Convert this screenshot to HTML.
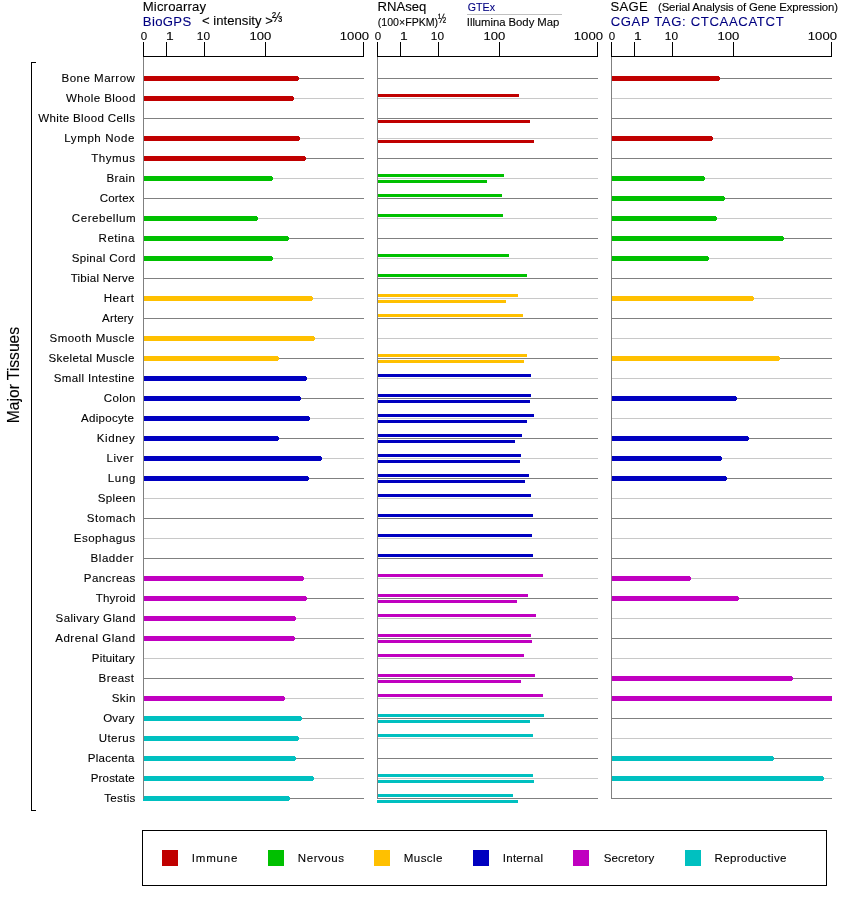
<!DOCTYPE html>
<html lang="en"><head><meta charset="utf-8"><title>Expression</title>
<style>html,body{margin:0;padding:0;background:#fff}body{width:842px;height:900px;overflow:hidden}svg{display:block}text{font-family:"Liberation Sans",Arial,Helvetica,sans-serif;stroke-width:0.1px;white-space:pre}</style></head><body>
<svg width="842" height="900" viewBox="0 0 842 900">
<rect x="0" y="0" width="842" height="900" fill="#fff"/>
<g shape-rendering="crispEdges">
<rect x="144" y="78" width="220" height="1" fill="#808080"/>
<rect x="144" y="98" width="220" height="1" fill="#c8c8c8"/>
<rect x="144" y="118" width="220" height="1" fill="#808080"/>
<rect x="144" y="138" width="220" height="1" fill="#c8c8c8"/>
<rect x="144" y="158" width="220" height="1" fill="#808080"/>
<rect x="144" y="178" width="220" height="1" fill="#c8c8c8"/>
<rect x="144" y="198" width="220" height="1" fill="#808080"/>
<rect x="144" y="218" width="220" height="1" fill="#c8c8c8"/>
<rect x="144" y="238" width="220" height="1" fill="#808080"/>
<rect x="144" y="258" width="220" height="1" fill="#c8c8c8"/>
<rect x="144" y="278" width="220" height="1" fill="#808080"/>
<rect x="144" y="298" width="220" height="1" fill="#c8c8c8"/>
<rect x="144" y="318" width="220" height="1" fill="#808080"/>
<rect x="144" y="338" width="220" height="1" fill="#c8c8c8"/>
<rect x="144" y="358" width="220" height="1" fill="#808080"/>
<rect x="144" y="378" width="220" height="1" fill="#c8c8c8"/>
<rect x="144" y="398" width="220" height="1" fill="#808080"/>
<rect x="144" y="418" width="220" height="1" fill="#c8c8c8"/>
<rect x="144" y="438" width="220" height="1" fill="#808080"/>
<rect x="144" y="458" width="220" height="1" fill="#c8c8c8"/>
<rect x="144" y="478" width="220" height="1" fill="#808080"/>
<rect x="144" y="498" width="220" height="1" fill="#c8c8c8"/>
<rect x="144" y="518" width="220" height="1" fill="#808080"/>
<rect x="144" y="538" width="220" height="1" fill="#c8c8c8"/>
<rect x="144" y="558" width="220" height="1" fill="#808080"/>
<rect x="144" y="578" width="220" height="1" fill="#c8c8c8"/>
<rect x="144" y="598" width="220" height="1" fill="#808080"/>
<rect x="144" y="618" width="220" height="1" fill="#c8c8c8"/>
<rect x="144" y="638" width="220" height="1" fill="#808080"/>
<rect x="144" y="658" width="220" height="1" fill="#c8c8c8"/>
<rect x="144" y="678" width="220" height="1" fill="#808080"/>
<rect x="144" y="698" width="220" height="1" fill="#c8c8c8"/>
<rect x="144" y="718" width="220" height="1" fill="#808080"/>
<rect x="144" y="738" width="220" height="1" fill="#c8c8c8"/>
<rect x="144" y="758" width="220" height="1" fill="#808080"/>
<rect x="144" y="778" width="220" height="1" fill="#c8c8c8"/>
<rect x="144" y="798" width="220" height="1" fill="#808080"/>
<rect x="143" y="56" width="221" height="1" fill="#000"/>
<rect x="143" y="42" width="1" height="14" fill="#000"/>
<rect x="166" y="42" width="1" height="14" fill="#000"/>
<rect x="204" y="42" width="1" height="14" fill="#000"/>
<rect x="265" y="42" width="1" height="14" fill="#000"/>
<rect x="363" y="42" width="1" height="14" fill="#000"/>
<rect x="378" y="78" width="220" height="1" fill="#808080"/>
<rect x="378" y="98" width="220" height="1" fill="#c8c8c8"/>
<rect x="378" y="118" width="220" height="1" fill="#808080"/>
<rect x="378" y="138" width="220" height="1" fill="#c8c8c8"/>
<rect x="378" y="158" width="220" height="1" fill="#808080"/>
<rect x="378" y="178" width="220" height="1" fill="#c8c8c8"/>
<rect x="378" y="198" width="220" height="1" fill="#808080"/>
<rect x="378" y="218" width="220" height="1" fill="#c8c8c8"/>
<rect x="378" y="238" width="220" height="1" fill="#808080"/>
<rect x="378" y="258" width="220" height="1" fill="#c8c8c8"/>
<rect x="378" y="278" width="220" height="1" fill="#808080"/>
<rect x="378" y="298" width="220" height="1" fill="#c8c8c8"/>
<rect x="378" y="318" width="220" height="1" fill="#808080"/>
<rect x="378" y="338" width="220" height="1" fill="#c8c8c8"/>
<rect x="378" y="358" width="220" height="1" fill="#808080"/>
<rect x="378" y="378" width="220" height="1" fill="#c8c8c8"/>
<rect x="378" y="398" width="220" height="1" fill="#808080"/>
<rect x="378" y="418" width="220" height="1" fill="#c8c8c8"/>
<rect x="378" y="438" width="220" height="1" fill="#808080"/>
<rect x="378" y="458" width="220" height="1" fill="#c8c8c8"/>
<rect x="378" y="478" width="220" height="1" fill="#808080"/>
<rect x="378" y="498" width="220" height="1" fill="#c8c8c8"/>
<rect x="378" y="518" width="220" height="1" fill="#808080"/>
<rect x="378" y="538" width="220" height="1" fill="#c8c8c8"/>
<rect x="378" y="558" width="220" height="1" fill="#808080"/>
<rect x="378" y="578" width="220" height="1" fill="#c8c8c8"/>
<rect x="378" y="598" width="220" height="1" fill="#808080"/>
<rect x="378" y="618" width="220" height="1" fill="#c8c8c8"/>
<rect x="378" y="638" width="220" height="1" fill="#808080"/>
<rect x="378" y="658" width="220" height="1" fill="#c8c8c8"/>
<rect x="378" y="678" width="220" height="1" fill="#808080"/>
<rect x="378" y="698" width="220" height="1" fill="#c8c8c8"/>
<rect x="378" y="718" width="220" height="1" fill="#808080"/>
<rect x="378" y="738" width="220" height="1" fill="#c8c8c8"/>
<rect x="378" y="758" width="220" height="1" fill="#808080"/>
<rect x="378" y="778" width="220" height="1" fill="#c8c8c8"/>
<rect x="378" y="798" width="220" height="1" fill="#808080"/>
<rect x="377" y="56" width="221" height="1" fill="#000"/>
<rect x="377" y="42" width="1" height="14" fill="#000"/>
<rect x="400" y="42" width="1" height="14" fill="#000"/>
<rect x="438" y="42" width="1" height="14" fill="#000"/>
<rect x="499" y="42" width="1" height="14" fill="#000"/>
<rect x="597" y="42" width="1" height="14" fill="#000"/>
<rect x="612" y="78" width="220" height="1" fill="#808080"/>
<rect x="612" y="98" width="220" height="1" fill="#c8c8c8"/>
<rect x="612" y="118" width="220" height="1" fill="#808080"/>
<rect x="612" y="138" width="220" height="1" fill="#c8c8c8"/>
<rect x="612" y="158" width="220" height="1" fill="#808080"/>
<rect x="612" y="178" width="220" height="1" fill="#c8c8c8"/>
<rect x="612" y="198" width="220" height="1" fill="#808080"/>
<rect x="612" y="218" width="220" height="1" fill="#c8c8c8"/>
<rect x="612" y="238" width="220" height="1" fill="#808080"/>
<rect x="612" y="258" width="220" height="1" fill="#c8c8c8"/>
<rect x="612" y="278" width="220" height="1" fill="#808080"/>
<rect x="612" y="298" width="220" height="1" fill="#c8c8c8"/>
<rect x="612" y="318" width="220" height="1" fill="#808080"/>
<rect x="612" y="338" width="220" height="1" fill="#c8c8c8"/>
<rect x="612" y="358" width="220" height="1" fill="#808080"/>
<rect x="612" y="378" width="220" height="1" fill="#c8c8c8"/>
<rect x="612" y="398" width="220" height="1" fill="#808080"/>
<rect x="612" y="418" width="220" height="1" fill="#c8c8c8"/>
<rect x="612" y="438" width="220" height="1" fill="#808080"/>
<rect x="612" y="458" width="220" height="1" fill="#c8c8c8"/>
<rect x="612" y="478" width="220" height="1" fill="#808080"/>
<rect x="612" y="498" width="220" height="1" fill="#c8c8c8"/>
<rect x="612" y="518" width="220" height="1" fill="#808080"/>
<rect x="612" y="538" width="220" height="1" fill="#c8c8c8"/>
<rect x="612" y="558" width="220" height="1" fill="#808080"/>
<rect x="612" y="578" width="220" height="1" fill="#c8c8c8"/>
<rect x="612" y="598" width="220" height="1" fill="#808080"/>
<rect x="612" y="618" width="220" height="1" fill="#c8c8c8"/>
<rect x="612" y="638" width="220" height="1" fill="#808080"/>
<rect x="612" y="658" width="220" height="1" fill="#c8c8c8"/>
<rect x="612" y="678" width="220" height="1" fill="#808080"/>
<rect x="612" y="698" width="220" height="1" fill="#c8c8c8"/>
<rect x="612" y="718" width="220" height="1" fill="#808080"/>
<rect x="612" y="738" width="220" height="1" fill="#c8c8c8"/>
<rect x="612" y="758" width="220" height="1" fill="#808080"/>
<rect x="612" y="778" width="220" height="1" fill="#c8c8c8"/>
<rect x="612" y="798" width="220" height="1" fill="#808080"/>
<rect x="611" y="56" width="221" height="1" fill="#000"/>
<rect x="611" y="42" width="1" height="14" fill="#000"/>
<rect x="634" y="42" width="1" height="14" fill="#000"/>
<rect x="672" y="42" width="1" height="14" fill="#000"/>
<rect x="733" y="42" width="1" height="14" fill="#000"/>
<rect x="831" y="42" width="1" height="14" fill="#000"/>
<path d="M143 76H298V77H299V80H298V81H143Z" fill="#c00000"/>
<path d="M143 96H293V97H294V100H293V101H143Z" fill="#c00000"/>
<path d="M143 136H299V137H300V140H299V141H143Z" fill="#c00000"/>
<path d="M143 156H305V157H306V160H305V161H143Z" fill="#c00000"/>
<path d="M143 176H272V177H273V180H272V181H143Z" fill="#00c000"/>
<path d="M143 216H257V217H258V220H257V221H143Z" fill="#00c000"/>
<path d="M143 236H288V237H289V240H288V241H143Z" fill="#00c000"/>
<path d="M143 256H272V257H273V260H272V261H143Z" fill="#00c000"/>
<path d="M143 296H312V297H313V300H312V301H143Z" fill="#ffc000"/>
<path d="M143 336H314V337H315V340H314V341H143Z" fill="#ffc000"/>
<path d="M143 356H278V357H279V360H278V361H143Z" fill="#ffc000"/>
<path d="M143 376H306V377H307V380H306V381H143Z" fill="#0000c0"/>
<path d="M143 396H300V397H301V400H300V401H143Z" fill="#0000c0"/>
<path d="M143 416H309V417H310V420H309V421H143Z" fill="#0000c0"/>
<path d="M143 436H278V437H279V440H278V441H143Z" fill="#0000c0"/>
<path d="M143 456H321V457H322V460H321V461H143Z" fill="#0000c0"/>
<path d="M143 476H308V477H309V480H308V481H143Z" fill="#0000c0"/>
<path d="M143 576H303V577H304V580H303V581H143Z" fill="#c000c0"/>
<path d="M143 596H306V597H307V600H306V601H143Z" fill="#c000c0"/>
<path d="M143 616H295V617H296V620H295V621H143Z" fill="#c000c0"/>
<path d="M143 636H294V637H295V640H294V641H143Z" fill="#c000c0"/>
<path d="M143 696H284V697H285V700H284V701H143Z" fill="#c000c0"/>
<path d="M143 716H301V717H302V720H301V721H143Z" fill="#00c0c0"/>
<path d="M143 736H298V737H299V740H298V741H143Z" fill="#00c0c0"/>
<path d="M143 756H295V757H296V760H295V761H143Z" fill="#00c0c0"/>
<path d="M143 776H313V777H314V780H313V781H143Z" fill="#00c0c0"/>
<path d="M143 796H289V797H290V800H289V801H143Z" fill="#00c0c0"/>
<path d="M611 76H719V77H720V80H719V81H611Z" fill="#c00000"/>
<path d="M611 136H712V137H713V140H712V141H611Z" fill="#c00000"/>
<path d="M611 176H704V177H705V180H704V181H611Z" fill="#00c000"/>
<path d="M611 196H724V197H725V200H724V201H611Z" fill="#00c000"/>
<path d="M611 216H716V217H717V220H716V221H611Z" fill="#00c000"/>
<path d="M611 236H783V237H784V240H783V241H611Z" fill="#00c000"/>
<path d="M611 256H708V257H709V260H708V261H611Z" fill="#00c000"/>
<path d="M611 296H753V297H754V300H753V301H611Z" fill="#ffc000"/>
<path d="M611 356H779V357H780V360H779V361H611Z" fill="#ffc000"/>
<path d="M611 396H736V397H737V400H736V401H611Z" fill="#0000c0"/>
<path d="M611 436H748V437H749V440H748V441H611Z" fill="#0000c0"/>
<path d="M611 456H721V457H722V460H721V461H611Z" fill="#0000c0"/>
<path d="M611 476H726V477H727V480H726V481H611Z" fill="#0000c0"/>
<path d="M611 576H690V577H691V580H690V581H611Z" fill="#c000c0"/>
<path d="M611 596H738V597H739V600H738V601H611Z" fill="#c000c0"/>
<path d="M611 676H792V677H793V680H792V681H611Z" fill="#c000c0"/>
<rect x="611" y="696" width="221" height="5" fill="#c000c0"/>
<path d="M611 756H773V757H774V760H773V761H611Z" fill="#00c0c0"/>
<path d="M611 776H823V777H824V780H823V781H611Z" fill="#00c0c0"/>
<rect x="377" y="94" width="142" height="3" fill="#c00000"/>
<rect x="377" y="120" width="153" height="3" fill="#c00000"/>
<rect x="377" y="140" width="157" height="3" fill="#c00000"/>
<rect x="377" y="174" width="127" height="3" fill="#00c000"/>
<rect x="377" y="180" width="110" height="3" fill="#00c000"/>
<rect x="377" y="194" width="125" height="3" fill="#00c000"/>
<rect x="377" y="214" width="126" height="3" fill="#00c000"/>
<rect x="377" y="254" width="132" height="3" fill="#00c000"/>
<rect x="377" y="274" width="150" height="3" fill="#00c000"/>
<rect x="377" y="294" width="141" height="3" fill="#ffc000"/>
<rect x="377" y="300" width="129" height="3" fill="#ffc000"/>
<rect x="377" y="314" width="146" height="3" fill="#ffc000"/>
<rect x="377" y="354" width="150" height="3" fill="#ffc000"/>
<rect x="377" y="360" width="147" height="3" fill="#ffc000"/>
<rect x="377" y="374" width="154" height="3" fill="#0000c0"/>
<rect x="377" y="394" width="154" height="3" fill="#0000c0"/>
<rect x="377" y="400" width="153" height="3" fill="#0000c0"/>
<rect x="377" y="414" width="157" height="3" fill="#0000c0"/>
<rect x="377" y="420" width="150" height="3" fill="#0000c0"/>
<rect x="377" y="434" width="145" height="3" fill="#0000c0"/>
<rect x="377" y="440" width="138" height="3" fill="#0000c0"/>
<rect x="377" y="454" width="144" height="3" fill="#0000c0"/>
<rect x="377" y="460" width="143" height="3" fill="#0000c0"/>
<rect x="377" y="474" width="152" height="3" fill="#0000c0"/>
<rect x="377" y="480" width="148" height="3" fill="#0000c0"/>
<rect x="377" y="494" width="154" height="3" fill="#0000c0"/>
<rect x="377" y="514" width="156" height="3" fill="#0000c0"/>
<rect x="377" y="534" width="155" height="3" fill="#0000c0"/>
<rect x="377" y="554" width="156" height="3" fill="#0000c0"/>
<rect x="377" y="574" width="166" height="3" fill="#c000c0"/>
<rect x="377" y="594" width="151" height="3" fill="#c000c0"/>
<rect x="377" y="600" width="140" height="3" fill="#c000c0"/>
<rect x="377" y="614" width="159" height="3" fill="#c000c0"/>
<rect x="377" y="634" width="154" height="3" fill="#c000c0"/>
<rect x="377" y="640" width="155" height="3" fill="#c000c0"/>
<rect x="377" y="654" width="147" height="3" fill="#c000c0"/>
<rect x="377" y="674" width="158" height="3" fill="#c000c0"/>
<rect x="377" y="680" width="144" height="3" fill="#c000c0"/>
<rect x="377" y="694" width="166" height="3" fill="#c000c0"/>
<rect x="377" y="714" width="167" height="3" fill="#00c0c0"/>
<rect x="377" y="720" width="153" height="3" fill="#00c0c0"/>
<rect x="377" y="734" width="156" height="3" fill="#00c0c0"/>
<rect x="377" y="774" width="156" height="3" fill="#00c0c0"/>
<rect x="377" y="780" width="157" height="3" fill="#00c0c0"/>
<rect x="377" y="794" width="136" height="3" fill="#00c0c0"/>
<rect x="377" y="800" width="141" height="3" fill="#00c0c0"/>
<rect x="143" y="57" width="1" height="742" fill="#808080"/>
<rect x="377" y="57" width="1" height="742" fill="#808080"/>
<rect x="611" y="57" width="1" height="742" fill="#808080"/>
<path d="M36 62.5H31.5V810.5H36" fill="none" stroke="#000" stroke-width="1"/>
<rect x="467" y="14" width="95" height="1" fill="#c0c0c0"/>
<rect x="142.5" y="830.5" width="684" height="55" fill="#fff" stroke="#000" stroke-width="1"/>
<rect x="162" y="850" width="16" height="16" fill="#c00000"/>
<rect x="268" y="850" width="16" height="16" fill="#00c000"/>
<rect x="374" y="850" width="16" height="16" fill="#ffc000"/>
<rect x="473" y="850" width="16" height="16" fill="#0000c0"/>
<rect x="573" y="850" width="16" height="16" fill="#c000c0"/>
<rect x="685" y="850" width="16" height="16" fill="#00c0c0"/>
</g>
<text transform="translate(61.56,82.00) scale(1.0500,1)" font-size="11" letter-spacing="0.449" fill="#000" stroke="#000">Bone Marrow</text>
<text transform="translate(65.90,102.00) scale(1.0500,1)" font-size="11" letter-spacing="0.382" fill="#000" stroke="#000">Whole Blood</text>
<text transform="translate(38.30,122.00) scale(1.0500,1)" font-size="11" letter-spacing="0.330" fill="#000" stroke="#000">White Blood Cells</text>
<text transform="translate(64.30,142.00) scale(1.0500,1)" font-size="11" letter-spacing="0.544" fill="#000" stroke="#000">Lymph Node</text>
<text transform="translate(91.20,162.00) scale(1.0500,1)" font-size="11" letter-spacing="0.520" fill="#000" stroke="#000">Thymus</text>
<text transform="translate(106.56,182.00) scale(1.0500,1)" font-size="11" letter-spacing="0.350" fill="#000" stroke="#000">Brain</text>
<text transform="translate(99.80,202.00) scale(1.0500,1)" font-size="11" letter-spacing="0.131" fill="#000" stroke="#000">Cortex</text>
<text transform="translate(71.80,222.00) scale(1.0500,1)" font-size="11" letter-spacing="0.513" fill="#000" stroke="#000">Cerebellum</text>
<text transform="translate(98.56,242.00) scale(1.0500,1)" font-size="11" letter-spacing="0.486" fill="#000" stroke="#000">Retina</text>
<text transform="translate(71.64,262.00) scale(1.0500,1)" font-size="11" letter-spacing="0.325" fill="#000" stroke="#000">Spinal Cord</text>
<text transform="translate(70.70,282.00) scale(1.0500,1)" font-size="11" letter-spacing="0.226" fill="#000" stroke="#000">Tibial Nerve</text>
<text transform="translate(103.64,302.00) scale(1.0500,1)" font-size="11" letter-spacing="0.505" fill="#000" stroke="#000">Heart</text>
<text transform="translate(102.10,322.00) scale(1.0500,1)" font-size="11" letter-spacing="0.133" fill="#000" stroke="#000">Artery</text>
<text transform="translate(49.56,342.00) scale(1.0500,1)" font-size="11" letter-spacing="0.424" fill="#000" stroke="#000">Smooth Muscle</text>
<text transform="translate(48.56,362.00) scale(1.0500,1)" font-size="11" letter-spacing="0.344" fill="#000" stroke="#000">Skeletal Muscle</text>
<text transform="translate(53.81,382.00) scale(1.0500,1)" font-size="11" letter-spacing="0.336" fill="#000" stroke="#000">Small Intestine</text>
<text transform="translate(103.70,402.00) scale(1.0500,1)" font-size="11" letter-spacing="0.362" fill="#000" stroke="#000">Colon</text>
<text transform="translate(81.10,422.00) scale(1.0500,1)" font-size="11" letter-spacing="0.261" fill="#000" stroke="#000">Adipocyte</text>
<text transform="translate(96.80,442.00) scale(1.0500,1)" font-size="11" letter-spacing="0.530" fill="#000" stroke="#000">Kidney</text>
<text transform="translate(106.56,462.00) scale(1.0500,1)" font-size="11" letter-spacing="0.476" fill="#000" stroke="#000">Liver</text>
<text transform="translate(107.81,482.00) scale(1.0500,1)" font-size="11" letter-spacing="0.600" fill="#000" stroke="#000">Lung</text>
<text transform="translate(97.80,502.00) scale(1.0500,1)" font-size="11" letter-spacing="0.311" fill="#000" stroke="#000">Spleen</text>
<text transform="translate(86.81,522.00) scale(1.0500,1)" font-size="11" letter-spacing="0.478" fill="#000" stroke="#000">Stomach</text>
<text transform="translate(73.80,542.00) scale(1.0500,1)" font-size="11" letter-spacing="0.453" fill="#000" stroke="#000">Esophagus</text>
<text transform="translate(90.56,562.00) scale(1.0500,1)" font-size="11" letter-spacing="0.512" fill="#000" stroke="#000">Bladder</text>
<text transform="translate(83.81,582.00) scale(1.0500,1)" font-size="11" letter-spacing="0.380" fill="#000" stroke="#000">Pancreas</text>
<text transform="translate(95.70,602.00) scale(1.0500,1)" font-size="11" letter-spacing="0.187" fill="#000" stroke="#000">Thyroid</text>
<text transform="translate(55.60,622.00) scale(1.0500,1)" font-size="11" letter-spacing="0.344" fill="#000" stroke="#000">Salivary Gland</text>
<text transform="translate(55.20,642.00) scale(1.0500,1)" font-size="11" letter-spacing="0.489" fill="#000" stroke="#000">Adrenal Gland</text>
<text transform="translate(91.81,662.00) scale(1.0500,1)" font-size="11" letter-spacing="0.163" fill="#000" stroke="#000">Pituitary</text>
<text transform="translate(98.56,682.00) scale(1.0500,1)" font-size="11" letter-spacing="0.392" fill="#000" stroke="#000">Breast</text>
<text transform="translate(111.64,702.00) scale(1.0500,1)" font-size="11" letter-spacing="0.411" fill="#000" stroke="#000">Skin</text>
<text transform="translate(103.30,722.00) scale(1.0500,1)" font-size="11" letter-spacing="0.094" fill="#000" stroke="#000">Ovary</text>
<text transform="translate(98.64,742.00) scale(1.0500,1)" font-size="11" letter-spacing="0.447" fill="#000" stroke="#000">Uterus</text>
<text transform="translate(87.80,762.00) scale(1.0500,1)" font-size="11" letter-spacing="0.238" fill="#000" stroke="#000">Placenta</text>
<text transform="translate(90.80,782.00) scale(1.0500,1)" font-size="11" letter-spacing="0.121" fill="#000" stroke="#000">Prostate</text>
<text transform="translate(104.20,802.00) scale(1.0500,1)" font-size="11" letter-spacing="0.320" fill="#000" stroke="#000">Testis</text>
<text transform="translate(19.00,423.20) rotate(-90) scale(1.0000,1)" font-size="15.7" letter-spacing="-0.039" fill="#000" stroke="#000">Major Tissues</text>
<text transform="translate(142.80,11.00) scale(1.0500,1)" font-size="12.5" letter-spacing="0.139" fill="#000" stroke="#000">Microarray</text>
<text transform="translate(142.80,26.00) scale(1.0500,1)" font-size="12.5" letter-spacing="0.327" fill="#000080" stroke="#000080">BioGPS</text>
<text transform="translate(201.90,25.00) scale(1.0500,1)" font-size="12.5" letter-spacing="0.028" fill="#000" stroke="#000">&lt; intensity &gt;</text>
<text transform="translate(272.00,21.60) scale(0.8736,1)" font-size="14" fill="#000" stroke="#000" style="stroke-width:0.2px">⅔</text>
<text transform="translate(377.60,11.00) scale(1.0500,1)" font-size="12.5" letter-spacing="-0.015" fill="#000" stroke="#000">RNAseq</text>
<text transform="translate(377.80,26.00) scale(0.9818,1)" font-size="10.8" fill="#000" stroke="#000">(100×FPKM)</text>
<text transform="translate(438.10,22.80) scale(0.7471,1)" font-size="13" fill="#000" stroke="#000" style="stroke-width:0.2px">½</text>
<text transform="translate(467.80,11.00) scale(0.9853,1)" font-size="10.8" fill="#000080" stroke="#000080">GTEx</text>
<text transform="translate(466.80,26.00) scale(1.0500,1)" font-size="10.8" letter-spacing="-0.041" fill="#000" stroke="#000">Illumina Body Map</text>
<text transform="translate(610.47,11.00) scale(1.0500,1)" font-size="12.5" letter-spacing="0.303" fill="#000" stroke="#000">SAGE</text>
<text transform="translate(657.98,11.00) scale(1.0500,1)" font-size="10.8" letter-spacing="-0.104" fill="#000" stroke="#000">(Serial Analysis of Gene Expression)</text>
<text transform="translate(610.64,26.00) scale(1.0500,1)" font-size="12.5" letter-spacing="0.618" fill="#000080" stroke="#000080">CGAP TAG: CTCAACATCT</text>
<text transform="translate(140.80,40.00) scale(1.0658,1)" font-size="10.8" fill="#000" stroke="#000">0</text>
<text transform="translate(165.91,40.00) scale(1.2800,1)" font-size="10.8" fill="#000" stroke="#000">1</text>
<text transform="translate(196.80,40.00) scale(1.0991,1)" font-size="10.8" fill="#000" stroke="#000">10</text>
<text transform="translate(249.56,40.00) scale(1.2124,1)" font-size="10.8" fill="#000" stroke="#000">100</text>
<text transform="translate(339.81,40.00) scale(1.2147,1)" font-size="10.8" fill="#000" stroke="#000">1000</text>
<text transform="translate(374.80,40.00) scale(1.0658,1)" font-size="10.8" fill="#000" stroke="#000">0</text>
<text transform="translate(399.91,40.00) scale(1.2800,1)" font-size="10.8" fill="#000" stroke="#000">1</text>
<text transform="translate(430.80,40.00) scale(1.0991,1)" font-size="10.8" fill="#000" stroke="#000">10</text>
<text transform="translate(483.56,40.00) scale(1.2124,1)" font-size="10.8" fill="#000" stroke="#000">100</text>
<text transform="translate(573.81,40.00) scale(1.2147,1)" font-size="10.8" fill="#000" stroke="#000">1000</text>
<text transform="translate(608.80,40.00) scale(1.0658,1)" font-size="10.8" fill="#000" stroke="#000">0</text>
<text transform="translate(633.91,40.00) scale(1.2800,1)" font-size="10.8" fill="#000" stroke="#000">1</text>
<text transform="translate(664.80,40.00) scale(1.0991,1)" font-size="10.8" fill="#000" stroke="#000">10</text>
<text transform="translate(717.56,40.00) scale(1.2124,1)" font-size="10.8" fill="#000" stroke="#000">100</text>
<text transform="translate(807.81,40.00) scale(1.2147,1)" font-size="10.8" fill="#000" stroke="#000">1000</text>
<text transform="translate(191.80,862.00) scale(1.0500,1)" font-size="11" letter-spacing="0.739" fill="#000" stroke="#000">Immune</text>
<text transform="translate(297.80,862.00) scale(1.0500,1)" font-size="11" letter-spacing="0.522" fill="#000" stroke="#000">Nervous</text>
<text transform="translate(403.80,862.00) scale(1.0500,1)" font-size="11" letter-spacing="0.383" fill="#000" stroke="#000">Muscle</text>
<text transform="translate(502.80,862.00) scale(1.0500,1)" font-size="11" letter-spacing="0.231" fill="#000" stroke="#000">Internal</text>
<text transform="translate(603.70,862.00) scale(1.0500,1)" font-size="11" letter-spacing="0.140" fill="#000" stroke="#000">Secretory</text>
<text transform="translate(714.56,862.00) scale(1.0500,1)" font-size="11" letter-spacing="0.337" fill="#000" stroke="#000">Reproductive</text>
</svg></body></html>
